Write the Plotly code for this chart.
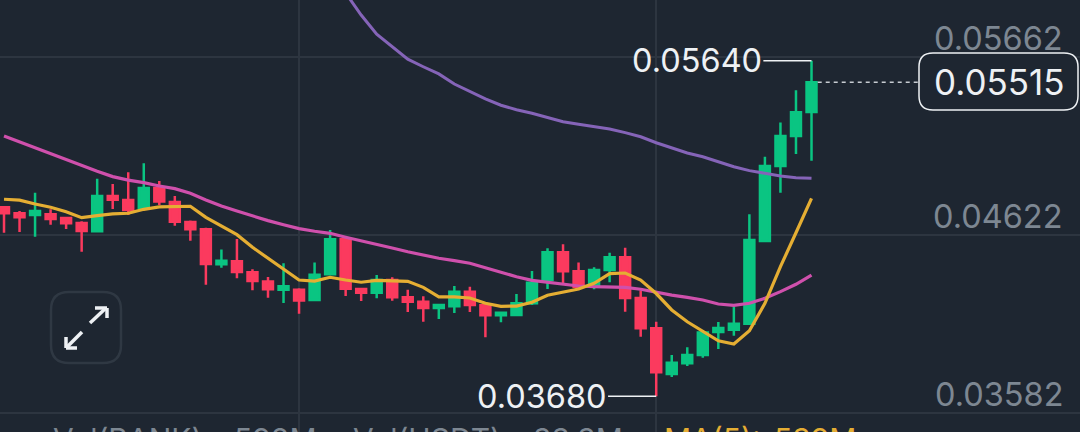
import plotly.graph_objects as go

W, H = 1080, 432
BG = "#1e2631"
GRID = "#2d3540"
GREEN = "#0ac582"
RED = "#fb3a5e"
YELLOW = "#e5ae33"
PINK = "#cf50ac"
PURPLE = "#8564b8"
WHITE = "#eef1f4"
GREY = "#7d8792"

opens = [0.04784,0.04749,0.04739,0.04743,0.04721,0.04692,0.04644,0.04850,0.04827,0.04778,0.04897,0.04815,0.04698,0.04655,0.04451,0.04468,0.04404,0.04351,0.04302,0.04302,0.04242,0.04392,0.04597,0.04306,0.04285,0.04359,0.04258,0.04232,0.04195,0.04205,0.04291,0.04211,0.04153,0.04155,0.04223,0.04359,0.04521,0.04410,0.04326,0.04417,0.04492,0.04254,0.04077,0.03810,0.03872,0.03921,0.04055,0.04069,0.04104,0.04587,0.05025,0.05200,0.05341]
closes = [0.04749,0.04725,0.04762,0.04715,0.04690,0.04645,0.04850,0.04828,0.04768,0.04897,0.04817,0.04700,0.04655,0.04453,0.04472,0.04406,0.04353,0.04305,0.04322,0.04240,0.04390,0.04597,0.04308,0.04285,0.04359,0.04258,0.04232,0.04195,0.04213,0.04291,0.04213,0.04153,0.04168,0.04223,0.04343,0.04521,0.04410,0.04320,0.04417,0.04492,0.04254,0.04077,0.03820,0.03876,0.03921,0.04053,0.04079,0.04104,0.04593,0.05025,0.05200,0.05339,0.05515]
highs = [0.04786,0.04762,0.04869,0.04772,0.04725,0.04702,0.04951,0.04920,0.04988,0.05041,0.04938,0.04850,0.04706,0.04665,0.04538,0.04599,0.04422,0.04377,0.04457,0.04311,0.04462,0.04651,0.04604,0.04306,0.04388,0.04375,0.04302,0.04264,0.04213,0.04324,0.04320,0.04219,0.04168,0.04277,0.04412,0.04544,0.04568,0.04462,0.04433,0.04519,0.04548,0.04297,0.04115,0.03921,0.03966,0.04053,0.04114,0.04203,0.04743,0.05079,0.05280,0.05467,0.05640]
lows = [0.04635,0.04640,0.04612,0.04682,0.04657,0.04524,0.04644,0.04774,0.04739,0.04778,0.04797,0.04676,0.04589,0.04332,0.04431,0.04369,0.04299,0.04256,0.04225,0.04162,0.04242,0.04392,0.04266,0.04236,0.04252,0.04238,0.04172,0.04115,0.04131,0.04166,0.04172,0.04024,0.04112,0.04150,0.04213,0.04306,0.04340,0.04314,0.04305,0.04346,0.04174,0.04028,0.03680,0.03792,0.03857,0.03905,0.03956,0.04034,0.04104,0.04587,0.04869,0.05095,0.05056]
ma_yellow = [0.04831,0.04826,0.04803,0.04784,0.04758,0.04723,0.04735,0.04745,0.04749,0.04772,0.04786,0.04790,0.04790,0.04725,0.04676,0.04624,0.04550,0.04486,0.04425,0.04359,0.04353,0.04375,0.04359,0.04346,0.04357,0.04353,0.04351,0.04316,0.04261,0.04261,0.04254,0.04223,0.04205,0.04207,0.04229,0.04270,0.04289,0.04306,0.04340,0.04396,0.04400,0.04359,0.04280,0.04184,0.04115,0.04057,0.04004,0.03985,0.04063,0.04223,0.04437,0.04635,0.04836]
ma_pink = [0.05200,0.05165,0.05132,0.05095,0.05060,0.05025,0.04994,0.04963,0.04943,0.04928,0.04908,0.04893,0.04866,0.04826,0.04791,0.04762,0.04733,0.04706,0.04682,0.04659,0.04644,0.04632,0.04609,0.04589,0.04569,0.04546,0.04524,0.04505,0.04486,0.04472,0.04457,0.04431,0.04404,0.04378,0.04357,0.04346,0.04334,0.04324,0.04320,0.04320,0.04316,0.04305,0.04287,0.04271,0.04258,0.04242,0.04219,0.04211,0.04223,0.04252,0.04291,0.04334,0.04387]
ma_purple = [None]*22 + [0.06036,0.05907,0.05795,0.05722,0.05649,0.05605,0.05563,0.05504,0.05459,0.05417,0.05380,0.05354,0.05333,0.05310,0.05284,0.05269,0.05255,0.05241,0.05220,0.05196,0.05161,0.05130,0.05101,0.05079,0.05050,0.05021,0.04998,0.04983,0.04967,0.04957,0.04953]
candle_index = list(range(len(opens)))

price_ticks = [0.03582, 0.04622, 0.05662]
price_tick_labels = ["0.03582", "0.04622", "0.05662"]
time_grid_index = [19, 42]
high_label, low_label, last_label = "0.05640", "0.03680", "0.05515"
high_price, low_price, last_price = 0.05640, 0.03680, 0.05515
high_index, low_index, last_index = 52, 42, 52
footer_items = [("Vol(BANK):", 52, GREY), ("598M", 233, GREY), ("Vol(USDT):", 352, GREY), ("33.3M", 532, GREY), ("MA(5):", 663, YELLOW), ("539M", 773, YELLOW)]


def px(x):
    return x / W


def py(y):
    return 1 - y / H


def rounded(x0, y0, x1, y1, r):
    a, b, c, d = px(x0), py(y0), px(x1), py(y1)
    rx, ry = r / W, r / H
    return (f"M{a+rx},{b} L{c-rx},{b} Q{c},{b} {c},{b-ry} L{c},{d+ry} Q{c},{d} {c-rx},{d} "
            f"L{a+rx},{d} Q{a},{d} {a},{d+ry} L{a},{b-ry} Q{a},{b} {a+rx},{b} Z")


def seg(x0, y0, x1, y1, color, width, dash="solid"):
    return dict(type="line", xref="paper", yref="paper", x0=px(x0), y0=py(y0), x1=px(x1), y1=py(y1),
                line=dict(color=color, width=width, dash=dash), layer="above")


fig = go.Figure()
fig.add_trace(go.Candlestick(
    x=candle_index, open=opens, high=highs, low=lows, close=closes,
    increasing=dict(line=dict(color=GREEN, width=2.5), fillcolor=GREEN),
    decreasing=dict(line=dict(color=RED, width=2.5), fillcolor=RED),
    whiskerwidth=0, showlegend=False, hoverinfo="skip"))
for values, color, width in [(ma_purple, PURPLE, 3), (ma_pink, PINK, 3.2), (ma_yellow, YELLOW, 3.2)]:
    fig.add_trace(go.Scatter(x=candle_index, y=values, mode="lines", line=dict(color=color, width=width),
                             showlegend=False, hoverinfo="skip"))

shapes = [
    # callout leaders in data coordinates
    dict(type="line", xref="x", yref="y", x0=high_index - 3.1, x1=high_index, y0=high_price, y1=high_price,
         line=dict(color=WHITE, width=1.5), layer="above"),
    dict(type="line", xref="x", yref="y", x0=low_index - 3.1, x1=low_index, y0=low_price, y1=low_price,
         line=dict(color=WHITE, width=1.5), layer="above"),
    dict(type="line", xref="x", yref="y", x0=last_index + 0.4, x1=last_index + 6.9, y0=last_price, y1=last_price,
         line=dict(color="#c7ccd2", width=1.5, dash="4px,4px"), layer="above"),
    # price box
    dict(type="path", xref="paper", yref="paper", path=rounded(919, 53, 1078, 110, 14),
         fillcolor=BG, line=dict(color=WHITE, width=1.5), layer="above"),
    # expand button
    dict(type="path", xref="paper", yref="paper", path=rounded(51, 292, 121, 363, 18),
         fillcolor=BG, line=dict(color="#2f3843", width=2.5), layer="above"),
    seg(90, 323, 106, 308, WHITE, 3.5),
    seg(95, 308, 107, 308, WHITE, 3.5),
    seg(107, 308, 107, 318, WHITE, 3.5),
    seg(82, 332, 66, 348, WHITE, 3.5),
    seg(66, 337, 66, 348, WHITE, 3.5),
    seg(66, 348, 77, 348, WHITE, 3.5),
]

font = dict(family="Inter, sans-serif", size=32.5, weight=400)
annotations = []
for tick, label in zip(price_ticks, price_tick_labels):
    annotations.append(dict(x=px(1064), xref="paper", y=tick, yref="y", text=label, xanchor="right", yanchor="bottom",
                            showarrow=False, yshift=-2, font=dict(font, color=GREY), borderpad=0))
annotations += [
    dict(x=high_index - 3.1, y=high_price, xref="x", yref="y", text=high_label, xanchor="right", yanchor="middle",
         showarrow=False, font=dict(font, color=WHITE), borderpad=0),
    dict(x=low_index - 3.1, y=low_price, xref="x", yref="y", text=low_label, xanchor="right", yanchor="middle",
         showarrow=False, font=dict(font, color=WHITE), borderpad=0),
    dict(x=px(999), xref="paper", y=last_price, yref="y", text=last_label, xanchor="center", yanchor="middle",
         showarrow=False, font=dict(font, size=35, color=WHITE), borderpad=0),
]
for text, xpos, color in footer_items:
    annotations.append(dict(x=px(xpos), y=py(420), xref="paper", yref="paper", text=text, xanchor="left", yanchor="top",
                            showarrow=False, font=dict(font, size=30, color=color), borderpad=0))

fig.update_layout(
    width=W, height=H, margin=dict(l=0, r=0, t=0, b=0), paper_bgcolor=BG, plot_bgcolor=BG,
    boxgap=0.36, boxgroupgap=0, dragmode=False, shapes=shapes, annotations=annotations,
    xaxis=dict(range=[-0.258, 69.29], tickvals=time_grid_index, showticklabels=False, showgrid=True, gridcolor=GRID,
               gridwidth=1.5, zeroline=False, rangeslider=dict(visible=False), ticks=""),
    yaxis=dict(range=[0.03471, 0.05995], tickvals=price_ticks, showticklabels=False, showgrid=True, gridcolor=GRID,
               gridwidth=1.5, zeroline=False, ticks=""),
)
fig.write_html("out.html", config=dict(displayModeBar=False),
               post_script="document.documentElement.style.background='#1e2631';document.body.style.margin='0';document.body.style.overflow='hidden';")
